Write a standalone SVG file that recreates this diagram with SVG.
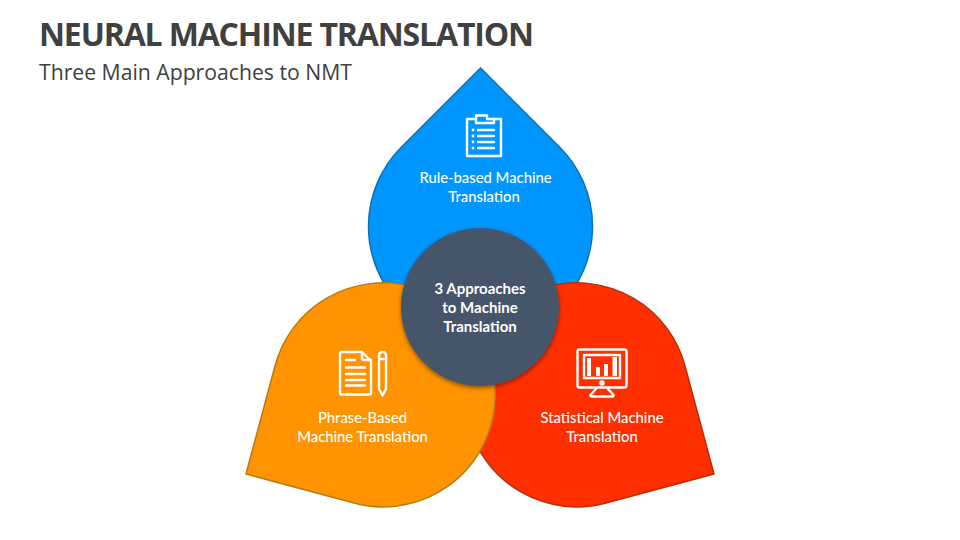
<svg xmlns="http://www.w3.org/2000/svg" width="960" height="540" viewBox="0 0 960 540">
<style>
.title{font:700 32px "Open Sans","Liberation Sans",sans-serif;fill:#404040;letter-spacing:-1.15px}
.sub{font:400 21.2px "Open Sans","Liberation Sans",sans-serif;fill:#404040}
.lab{font:500 14.8px Lato,"Liberation Sans",sans-serif;fill:#fff;text-anchor:middle}
.cen{font:700 15px Lato,"Liberation Sans",sans-serif;fill:#fff;text-anchor:middle}
.ic{fill:none;stroke:#fff;stroke-width:2.4;stroke-linejoin:round;stroke-linecap:round}
.icf{fill:#fff;stroke:none}
.drop{stroke-width:1.5}
</style>
<defs>
<filter id="sh" x="-20%" y="-20%" width="140%" height="140%"><feDropShadow dx="0" dy="2" stdDeviation="2" flood-color="#000" flood-opacity="0.45"/></filter>
</defs>
<rect width="960" height="540" fill="#fff"/>
<text class="title" x="39" y="46">NEURAL MACHINE TRANSLATION</text>
<text class="sub" x="39" y="80">Three Main Approaches to NMT</text>
<g id="node-rule">
<path class="drop" fill="#0096FF" stroke="#0B70B5" d="M480.500 68 L559.700 147.200 A112 112 0 1 1 401.300 147.200 Z"/>
<g>
<path class="ic" d="M476 119 H467 V156 H501 V119 H494"/>
<path class="ic" d="M476 115.500 H487 V119 H494 V123 H476 Z" fill="#0096FF"/>
<path class="ic" d="M478 130 H494 M478 136 H494 M478 142 H494 M478 148 H494" stroke-width="2"/>
<circle class="icf" cx="473" cy="130" r="1.400"/><circle class="icf" cx="473" cy="136" r="1.400"/><circle class="icf" cx="473" cy="142" r="1.400"/><circle class="icf" cx="473" cy="148" r="1.400"/>
</g>
<text class="lab" x="485.500" y="183">Rule-based Machine</text>
<text class="lab" x="484" y="202">Translation</text>
</g>
<g id="node-statistical">
<path class="drop" fill="#FF2F00" stroke="#B92D08" d="M714 474 L606 503 A112 112 0 1 1 685 366 Z"/>
<g>
<rect class="ic" x="577.500" y="349.500" width="49" height="38" rx="2"/>
<rect class="ic" x="584" y="355" width="36" height="23" stroke-width="1.500"/>
<rect class="icf" x="587" y="358" width="4" height="18"/><rect class="icf" x="596" y="367" width="4" height="9"/><rect class="icf" x="604" y="364" width="4" height="12"/><rect class="icf" x="612.500" y="357" width="4.500" height="19"/>
<circle class="ic" cx="602" cy="383" r="1.500" stroke-width="1.200"/>
<path class="ic" d="M596 389 L590.500 395 Q590 396.500 592 396.500 H612 Q614 396.500 613.500 395 L608 389" stroke-width="1.600"/>
</g>
<text class="lab" x="602" y="423">Statistical Machine</text>
<text class="lab" x="602" y="442">Translation</text>
</g>
<g id="node-phrase">
<path class="drop" fill="#FF9300" stroke="#B97A14" d="M246 474 L275 366 A112 112 0 1 1 354 503 Z"/>
<g>
<path class="ic" d="M342 352 H362 L371 361 V393 Q371 394.500 369.500 394.500 H341.500 Q340 394.500 340 393 V353.500 Q340 352 342 352 Z"/>
<path class="ic" d="M362 352 V358 Q362 360 364 360 H371" stroke-width="1.800"/>
<path class="ic" d="M346 360 H355 M346 367.500 H365 M346 374 H365 M346 380 H365 M346 385.500 H365"/>
<path class="ic" d="M379 356 Q379 352 382.500 352 Q386 352 386 356 V389 L382.500 395.500 L379 389 Z" stroke-width="2"/>
<path class="ic" d="M379 359 H386" stroke-width="1.500"/>
</g>
<text class="lab" x="362.500" y="423">Phrase-Based</text>
<text class="lab" x="362.500" y="442">Machine Translation</text>
</g>
<g id="node-center">
<circle cx="480" cy="307" r="79" fill="#44546A" filter="url(#sh)"/>
<text class="cen" x="480" y="294">3 Approaches</text>
<text class="cen" x="480" y="313">to Machine</text>
<text class="cen" x="480" y="332">Translation</text>
</g>
<g id="connectors"/>
</svg>
